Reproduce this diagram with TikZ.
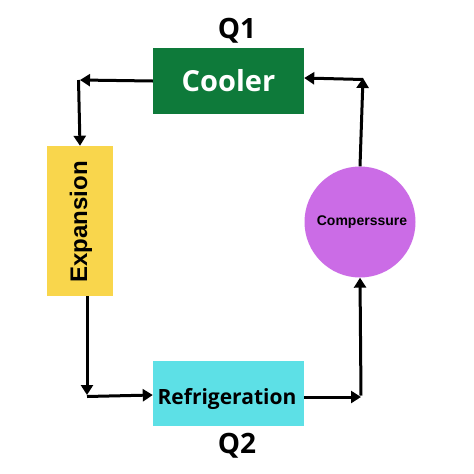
\documentclass[tikz,border=0pt]{standalone}
\usepackage{fontspec}
\setmainfont{Open Sans}
\newfontfamily\arialfont{Liberation Sans}
\usetikzlibrary{arrows.meta}
\definecolor{coolgreen}{RGB}{14,122,58}
\definecolor{expyellow}{RGB}{249,214,76}
\definecolor{refcyan}{RGB}{93,224,230}
\definecolor{comppurple}{RGB}{203,108,230}
\tikzset{
  boxnode/.style={rectangle, inner sep=0pt, minimum width=151pt, minimum height=66pt},
  arr/.style={line width=3pt, -{Triangle[length=10pt,width=12pt]}},
  qlabel/.style={font=\fontsize{28}{30}\selectfont\bfseries}
}
\begin{document}
\begin{tikzpicture}[x=1pt,y=-1pt]
\useasboundingbox[fill=white] (0,0) rectangle (474,474);
\node[boxnode, fill=coolgreen, text=white, font=\fontsize{29}{31}\selectfont\bfseries] (cooler) at (228.5,81) {Cooler};
\node[qlabel] (q1) at (237,31) {Q1};
\node[rectangle, inner sep=0pt, minimum width=66pt, minimum height=150pt, fill=expyellow] (expansion) at (80,221) {};
\node[rotate=90, font=\arialfont\fontsize{24}{26}\selectfont\bfseries] (exptext) at (81,222) {Expansion};
\node[boxnode, minimum height=65pt, fill=refcyan, font=\fontsize{21}{23}\selectfont\bfseries] (refrig) at (228.5,393.5) {};
\node[font=\fontsize{21}{23}\selectfont\bfseries] (reftext) at (227,399) {Refrigeration};
\node[qlabel] (q2) at (237,446) {Q2};
\node[circle, fill=comppurple, minimum size=111pt, inner sep=0pt] (comp) at (360,222) {};
\node[font=\arialfont\fontsize{14}{16}\selectfont\bfseries, text={RGB:red,30;green,10;blue,40}] (comptext) at (362,222) {Comperssure};
\coordinate (c1) at (80,80);
\coordinate (c2) at (87,395);
\coordinate (c3) at (361,397);
\coordinate (c4) at (363,78);
\draw[arr] (cooler.west) -- (c1);
\draw[arr] ([xshift=-1.5pt]c1) -- (expansion.north);
\draw[arr] ([xshift=7pt]expansion.south) -- (c2);
\draw[arr] ([yshift=-1.5pt]c2) -- (refrig.west |- c2);
\draw[arr] (refrig.east |- c3) -- (c3);
\draw[arr] ([yshift=1.5pt]c3) -- (comp.south);
\draw[arr] (comp.north) -- (c4);
\draw[arr] ([yshift=-1.5pt]c4) -- (cooler.east |- c4);
\end{tikzpicture}
\end{document}
